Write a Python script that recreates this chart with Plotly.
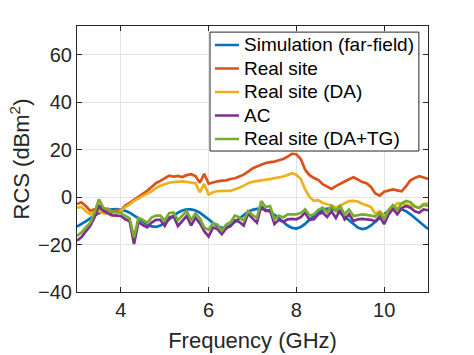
import plotly.graph_objects as go

freq = [round(3.0 + 0.1 * i, 1) for i in range(81)]

sim_far_field = [-12.5, -11.5, -10.3, -9.0, -7.8, -6.8, -6.0, -5.5, -5.2, -5.1,
                 -5.3, -5.8, -6.6, -7.7, -9.0, -10.4, -11.6, -12.4, -12.6, -12.0,
                 -10.9, -9.4, -7.9, -6.6, -5.7, -5.2, -5.2, -5.7, -6.6, -7.9,
                 -9.4, -11.0, -12.3, -13.0, -12.8, -11.9, -10.5, -8.9, -7.4, -6.2,
                 -5.4, -5.0, -5.0, -5.4, -6.2, -7.4, -8.9, -10.5, -12.0, -13.0,
                 -13.3, -12.6, -11.3, -9.6, -7.9, -6.4, -5.4, -4.9, -5.0, -5.6,
                 -6.7, -8.2, -9.9, -11.6, -12.9, -13.5, -13.1, -12.0, -10.4, -8.6,
                 -7.0, -5.8, -5.1, -4.9, -5.2, -6.0, -7.3, -8.9, -10.6, -12.2,
                 -13.5]

real_site = [-3.0, -2.2, -3.8, -5.8, -5.2, -5.0, -5.6, -5.0, -6.5, -5.4,
             -5.6, -3.6, -2.5, -1.2, -0.2, 1.2, 2.6, 4.2, 5.8, 6.8,
             7.9, 9.0, 8.6, 8.9, 8.4, 9.2, 9.6, 8.8, 6.0, 9.8,
             5.6, 6.2, 6.6, 6.9, 7.0, 7.6, 7.9, 8.6, 9.4, 10.7,
             12.0, 12.8, 13.7, 14.3, 14.7, 14.9, 15.5, 16.0, 17.0, 18.2,
             18.0, 16.0, 11.5, 9.2, 8.0, 7.2, 5.4, 4.4, 3.4, 4.6,
             5.4, 6.5, 7.5, 8.3, 7.4, 6.3, 5.8, 4.2, 1.5, 0.6,
             2.2, 2.6, 3.2, 2.8, 2.4, 4.6, 7.0, 8.0, 8.8, 8.2,
             7.6]

real_site_da = [-4.5, -4.2, -5.9, -7.3, -6.2, -5.9, -6.8, -7.0, -8.0, -7.0,
                -5.8, -4.2, -3.1, -1.6, -0.5, 0.4, 1.4, 2.4, 3.8, 4.7,
                5.4, 6.0, 6.3, 6.5, 6.6, 6.4, 6.1, 5.8, 2.0, 5.5,
                1.0, 2.0, 2.5, 2.4, 2.6, 2.6, 3.2, 3.9, 4.8, 5.8,
                6.4, 6.8, 7.0, 7.3, 7.5, 7.8, 8.2, 8.6, 9.3, 10.0,
                9.4, 7.6, 3.2, 0.0, -1.6, -1.3, -2.5, -3.0, -3.6, -4.5,
                -3.6, -2.5, -1.7, -1.6, -1.9, -2.8, -3.4, -4.2, -7.0, -6.0,
                -7.8, -7.0, -5.0, -2.6, -2.8, -3.2, -3.3, -4.0, -4.5, -3.0,
                -2.7]

ac = [-18.4, -17.0, -14.5, -12.2, -8.5, -3.4, -5.9, -6.8, -7.7, -7.8,
      -8.0, -9.4, -10.2, -19.8, -10.5, -11.8, -12.8, -10.8, -9.6, -9.6,
      -12.2, -8.7, -8.0, -12.2, -10.0, -8.0, -12.0, -8.8, -11.0, -14.4,
      -16.6, -12.8, -13.5, -15.6, -13.2, -12.3, -9.8, -10.5, -12.0, -7.0,
      -9.0, -10.8, -3.8, -5.9, -5.5, -11.4, -9.6, -10.4, -9.4, -9.2,
      -9.4, -8.5, -6.6, -9.6, -9.4, -7.3, -6.5, -8.4, -6.0, -8.8,
      -5.4, -9.4, -7.3, -10.1, -9.4, -9.2, -9.4, -9.6, -10.2, -8.2,
      -11.4, -7.4, -5.0, -7.3, -4.7, -3.8, -4.5, -6.0, -6.6, -5.2,
      -5.6]

real_site_da_tg = [-16.4, -15.0, -12.8, -10.9, -6.5, -1.0, -4.5, -5.2, -6.0, -6.3,
                   -6.6, -8.0, -9.0, -17.0, -8.7, -9.6, -10.9, -8.7, -7.8, -7.8,
                   -9.9, -6.8, -6.5, -9.8, -8.0, -5.9, -9.6, -7.0, -9.0, -12.8,
                   -13.8, -11.0, -11.6, -14.2, -11.6, -10.6, -7.8, -8.6, -10.0, -5.9,
                   -7.6, -8.8, -1.7, -4.2, -3.8, -9.4, -7.8, -8.6, -7.3, -7.4,
                   -7.3, -6.8, -5.2, -7.8, -7.3, -5.4, -4.5, -6.4, -3.8, -5.9,
                   -3.8, -7.3, -5.2, -8.0, -7.5, -7.3, -7.5, -7.8, -8.2, -6.6,
                   -9.4, -5.5, -3.4, -5.4, -2.6, -1.7, -2.2, -4.0, -4.6, -3.2,
                   -3.8]

series_names = ["Simulation (far-field)", "Real site", "Real site (DA)", "AC", "Real site (DA+TG)"]
series_values = [sim_far_field, real_site, real_site_da, ac, real_site_da_tg]
series_colors = ["#0072BD", "#D95319", "#EDB120", "#7E2F8E", "#77AC30"]

x_ticks = [4, 6, 8, 10]
y_ticks = [-40, -20, 0, 20, 40, 60]

FONT = "Liberation Sans, Arial, Helvetica, sans-serif"

fig = go.Figure()
for name, vals, color in zip(series_names, series_values, series_colors):
    fig.add_trace(go.Scatter(x=freq, y=vals, mode="lines", name=name,
                             line=dict(color=color, width=2.7), showlegend=False))

axis_common = dict(
    showline=True, linecolor="#262626", linewidth=1, mirror="ticks",
    ticks="inside", ticklen=5, tickcolor="#262626",
    showgrid=True, gridcolor="#e3e3e3", gridwidth=1, zeroline=False,
    automargin=False,
    tickfont=dict(family=FONT, size=20, color="#262626"),
)

# Manual legend box (MATLAB style: short line samples, tight rows)
box_x0, box_x1, box_y0, box_y1 = 0.379, 0.974, 0.530, 0.977
sample_x0, sample_x1, text_x = 0.393, 0.4615, 0.470
row_y = [0.9286, 0.8402, 0.7519, 0.6635, 0.5752]

shapes = [dict(type="rect", xref="paper", yref="paper",
               x0=box_x0, x1=box_x1, y0=box_y0, y1=box_y1,
               line=dict(color="#262626", width=1), fillcolor="white", layer="above")]
annotations = []
for name, color, yy in zip(series_names, series_colors, row_y):
    shapes.append(dict(type="line", xref="paper", yref="paper",
                       x0=sample_x0, x1=sample_x1, y0=yy, y1=yy,
                       line=dict(color=color, width=2.5), layer="above"))
    annotations.append(dict(xref="paper", yref="paper", x=text_x, y=yy,
                            xanchor="left", yanchor="middle", showarrow=False,
                            text=name, font=dict(family=FONT, size=19, color="black")))

fig.update_layout(
    width=474, height=355,
    margin=dict(l=77, r=46, t=26, b=63),
    paper_bgcolor="white", plot_bgcolor="white",
    font=dict(family=FONT, color="#262626"),
    xaxis=dict(range=[3, 11], tickvals=x_ticks,
               title=dict(text="Frequency (GHz)", font=dict(size=22), standoff=12),
               **axis_common),
    yaxis=dict(range=[-40, 72], tickvals=y_ticks,
               title=dict(text="RCS (dBm<sup>2</sup>)", font=dict(size=22), standoff=2),
               **axis_common),
    shapes=shapes,
    annotations=annotations,
    showlegend=False,
)

fig.write_html("out.html", config={"displayModeBar": False},
               post_script="document.body.style.margin='0px';document.body.style.padding='0px';")
